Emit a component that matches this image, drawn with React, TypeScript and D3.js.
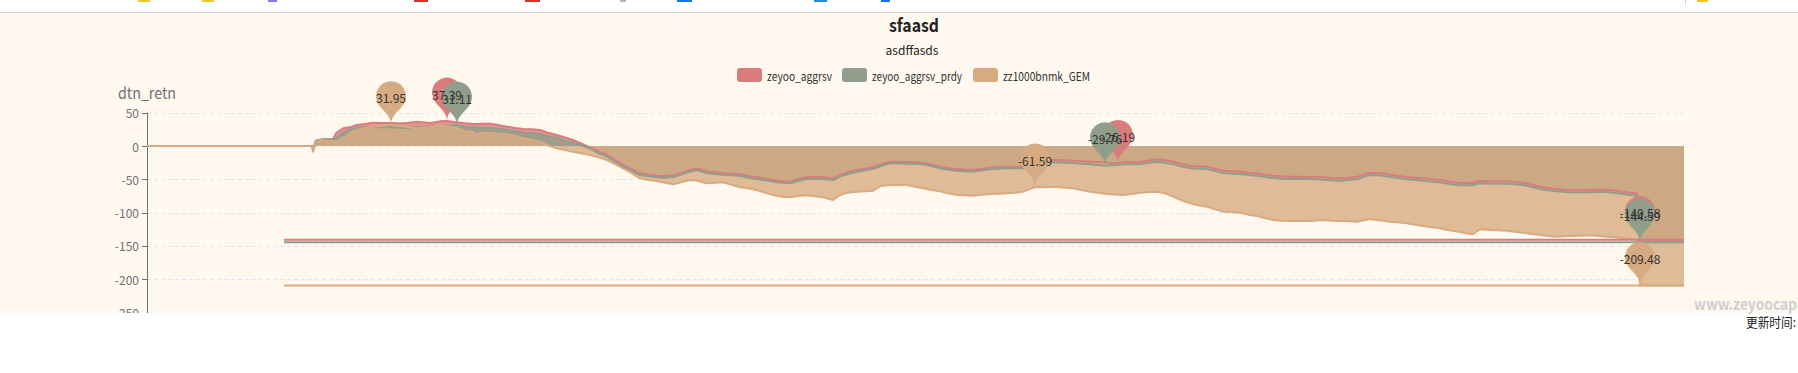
import React from 'react';
import * as d3 from 'd3';

// ---------- data ----------
const title = 'sfaasd';
const subtitle = 'asdffasds';
const yAxisName = 'dtn_retn';
const seriesNames = ['zeyoo_aggrsv', 'zeyoo_aggrsv_prdy', 'zz1000bnmk_GEM'];
const seriesColors = ['#d87c7c', '#919e8b', '#d7ab82'];
const yTicks = [50, 0, -50, -100, -150, -200, -250];

const days = [0, 165, 166, 169, 175, 186, 189, 196, 203, 210, 218, 226, 235, 244, 252, 260, 270, 283, 293, 300, 310, 318, 326, 330, 334, 343, 350, 360, 368, 376, 385, 393, 401, 410, 418, 426, 434, 443, 451, 460, 468, 476, 485, 493, 501, 510, 518, 526, 535, 543, 550, 560, 568, 576, 584, 593, 601, 610, 618, 626, 635, 643, 651, 660, 668, 676, 686, 693, 701, 710, 718, 726, 734, 743, 751, 760, 768, 776, 785, 793, 801, 810, 818, 826, 835, 843, 851, 860, 868, 876, 888, 893, 901, 910, 918, 926, 934, 943, 951, 958, 965, 971, 976, 985, 993, 1001, 1010, 1018, 1026, 1034, 1043, 1051, 1060, 1068, 1076, 1085, 1093, 1101, 1110, 1118, 1126, 1135, 1143, 1151, 1160, 1168, 1176, 1185, 1193, 1201, 1210, 1218, 1223, 1230, 1236, 1243, 1250, 1260, 1268, 1276, 1285, 1293, 1301, 1310, 1318, 1326, 1333, 1343, 1351, 1360, 1368, 1376, 1385, 1393, 1401, 1410, 1418, 1426, 1435, 1443, 1451, 1460, 1468, 1476, 1483, 1490, 1493, 1537];

const aggrsv = [0, 0, -4, 8, 10, 10, 19, 26.5, 28, 31.5, 33, 35, 34.5, 34.5, 34, 34.5, 36.5, 34.5, 37, 37.39, 35.5, 34, 33, 33, 33.5, 33.5, 32, 29, 27, 25.5, 25, 24, 20, 16.5, 13, 9, 4, -2, -8, -13.5, -21, -28.5, -35, -41, -43, -44.5, -45, -44, -40, -36, -33.5, -38.5, -39.5, -41, -41.5, -42.5, -45, -47, -49, -51, -52.5, -53.5, -50, -47, -47, -47, -48.5, -43.5, -39.5, -36, -34, -32, -27.5, -23.5, -23.5, -24, -24.5, -25, -28, -31, -33, -34.5, -35.5, -36, -34, -32.5, -31.5, -31, -31, -31, -26, -23.5, -22, -21, -21.5, -22, -23, -23.5, -24, -24.5, -25.5, -26.19, -24, -24, -24, -22, -20, -21.5, -23.5, -27, -30, -30.5, -31, -34, -37, -38, -38.5, -40, -41, -43, -44.5, -45.5, -46, -46, -46, -46.5, -47, -48, -48.5, -47.5, -46.5, -42, -40, -40.5, -41, -43, -44.5, -46.5, -47.5, -48.5, -50, -51, -53, -55, -55.5, -55.5, -52.5, -53, -53, -53, -54, -55, -58, -61, -63, -64.5, -65.5, -66, -66, -66, -65.5, -65.5, -67, -68.5, -70, -71, -140.58, -140.58];

const aggrsvPrdy = [0, 0, -6, 8, 10, 10, 11.5, 20, 24, 27, 28, 28.5, 28, 28.5, 27.5, 27, 28.5, 29, 30, 30.5, 31.11, 29, 28, 27.5, 27.5, 27, 26, 24, 22, 20, 19, 18, 15, 12, 8.5, 5, 1, -4, -10.5, -16, -23.5, -31, -37.5, -43.5, -45.5, -47, -47.5, -46.5, -42.5, -38.5, -36, -41, -42, -43.5, -44, -45, -47.5, -49.5, -51.5, -53.5, -55, -56, -52.5, -49.5, -49.5, -49.5, -51, -46, -42, -38.5, -36.5, -34.5, -30, -26, -26, -26.5, -27, -27.5, -30.5, -33.5, -35.5, -37, -38, -38.5, -36.5, -35, -34, -33.5, -33.5, -33.5, -28.5, -26.5, -25, -24.5, -25, -25.5, -26.5, -27.5, -28.5, -29.76, -29, -28.5, -27.5, -27.5, -27.5, -25.5, -23.5, -25, -27, -30.5, -33.5, -34, -34.5, -37.5, -40.5, -41.5, -42, -43.5, -44.5, -46.5, -48, -49, -49.5, -49.5, -49.5, -50, -50.5, -51.5, -52, -51, -50, -45.5, -43.5, -44, -44.5, -46.5, -48, -50, -51, -52, -53.5, -54.5, -56.5, -58.5, -59, -59, -56, -56.5, -56.5, -56.5, -57.5, -58.5, -61.5, -64.5, -66.5, -68, -69, -69.5, -69.5, -69.5, -69, -69, -70.5, -72, -73.5, -74.5, -144.59, -144.59];

const gemBench = [0, 0, -8.5, 6, 9, 7, 6.5, 12, 20, 24, 27, 29, 30.5, 31.95, 30, 29, 26.5, 28, 30.5, 29.5, 27, 22, 21.5, 16.5, 20, 19.5, 18.5, 18, 15, 11.5, 9, 6.5, 1, -3.5, -6, -8.5, -11, -13.5, -17, -21, -27, -33.5, -41, -48.5, -51, -52.5, -55, -57.5, -54, -51, -52, -56, -55, -54.5, -58, -62, -63.5, -66, -70, -73.5, -76, -77, -75, -74, -75.5, -77, -81, -73.5, -70, -68.5, -68, -67, -60, -58.5, -58.5, -58.5, -61, -63.5, -66, -68, -71, -73.5, -74, -74.5, -73, -72, -71.5, -71, -70, -68.5, -61.59, -62, -61.5, -61.5, -62.5, -63.5, -66, -68.5, -70, -71.5, -72.5, -73, -73.5, -72, -70, -69, -68.5, -71, -76, -81, -86, -89, -91, -95, -98.5, -99, -100, -103, -105, -108, -111, -112, -112.5, -112.5, -112.5, -112, -111, -112, -112.5, -113, -113.5, -111, -109.5, -111, -112, -113.5, -114.5, -116, -118, -120, -122, -123.5, -126, -128.5, -130.5, -132.5, -125, -126, -126.5, -127, -128.5, -130, -132, -133.5, -135, -136, -135.5, -135, -134.5, -134, -135, -136, -137, -138.5, -139.5, -141, -209.48, -209.48];

// mark points (days at which each series shows a pin)
const aggrsvMarks = [300, 971, 1493];
const aggrsvPrdyMarks = [310, 958, 1493];
const gemBenchMarks = [244, 888, 1493];
// day where the trailing flat line of each series begins
const flatStartDay = 137;

const watermark = 'www.zeyoocap';
const updateLabel = '更新时间:';

// ---------- layout ----------
const W = 1798;
const H = 373;
const FONT = "'Noto Sans CJK SC', 'Noto Sans', sans-serif";
const GRID_L = 147;
const GRID_R = 1684;
const CREAM_TOP = 13;
const CREAM_BOTTOM = 313;

function pinPath(x: number, y: number, size = 50) {
  const w = (size / 5) * 3;
  const h = Math.max(w, size);
  const r = w / 2;
  const dy = (r * r) / (h - r);
  const cy = y - h + r + dy;
  const angle = Math.asin(dy / r);
  const dx = Math.cos(angle) * r;
  const tanX = Math.sin(angle);
  const tanY = Math.cos(angle);
  const cpLen = r * 0.6;
  const cpLen2 = r * 0.7;
  const p = d3.path();
  p.moveTo(x - dx, cy + dy);
  p.arc(x, cy, r, Math.PI - angle, Math.PI * 2 + angle);
  p.bezierCurveTo(x + dx - tanX * cpLen, cy + dy + tanY * cpLen, x, y - cpLen2, x, y);
  p.bezierCurveTo(x, y - cpLen2, x - dx + tanX * cpLen, cy + dy + tanY * cpLen, x - dx, cy + dy);
  p.closePath();
  return p.toString();
}

const bookmarkBits = [
  { x: 138, w: 12, c: '#f2c12e' },
  { x: 202, w: 12, c: '#f2c12e' },
  { x: 268, w: 9, c: '#7c7cf2' },
  { x: 414, w: 14, c: '#d9302a' },
  { x: 525, w: 15, c: '#d9302a' },
  { x: 620, w: 6, c: '#b0b8c8' },
  { x: 677, w: 15, c: '#1a73e8' },
  { x: 814, w: 13, c: '#2a8ad8' },
  { x: 881, w: 9, c: '#1a73e8' },
  { x: 1697, w: 11, c: '#f2c12e' },
];

export default function App() {
  const x = d3.scaleLinear().domain([0, 1537]).range([GRID_L, GRID_R]);
  const y = d3.scaleLinear().domain([-250, 50]).range([312.6, 112.7]);

  const allSeries = [aggrsv, aggrsvPrdy, gemBench];
  const allMarks = [aggrsvMarks, aggrsvPrdyMarks, gemBenchMarks];

  const area = d3
    .area<number>()
    .x((_, i) => x(days[i]))
    .y0(y(0))
    .y1((d) => y(d));
  const line = d3
    .line<number>()
    .x((_, i) => x(days[i]))
    .y((d) => y(d));

  const pins: { sx: number; sy: number; v: number; color: string }[] = [];
  allSeries.forEach((s, si) => {
    allMarks[si].forEach((day) => {
      const idx = days.indexOf(day);
      const v = s[idx];
      pins.push({ sx: x(day), sy: y(v), v, color: seriesColors[si] });
    });
  });

  const legendX = [737, 842, 973];
  const legendTextW = [65, 90, 87];

  return (
    <svg
      width={W}
      height={H}
      style={{ position: 'absolute', left: 0, top: 0, background: '#ffffff' }}
      fontFamily={FONT}
    >
      <defs>
        <clipPath id="creamClip">
          <rect x={0} y={CREAM_TOP} width={W} height={CREAM_BOTTOM - CREAM_TOP} />
        </clipPath>
      </defs>
      {/* browser bar remnants */}
      <rect x={0} y={0} width={W} height={12} fill="#ffffff" />
      {bookmarkBits.map((b, i) => (
        <rect key={i} x={b.x} y={0} width={b.w} height={2} fill={b.c} />
      ))}
      <line x1={1685.5} x2={1685.5} y1={0} y2={4} stroke="#cfcfcf" />
      <rect x={0} y={12} width={W} height={1} fill="#d6d6d6" />

      {/* chart background */}
      <rect x={0} y={CREAM_TOP} width={W} height={CREAM_BOTTOM - CREAM_TOP} fill="#fef8ef" />

      <g clipPath="url(#creamClip)">
        {/* split lines */}
        {yTicks.map((t) => (
          <line
            key={'g' + t}
            x1={GRID_L}
            x2={GRID_R}
            y1={Math.round(y(t)) + 0.5}
            y2={Math.round(y(t)) + 0.5}
            stroke="#e0e6f1"
            strokeDasharray="4,3"
          />
        ))}
        {/* y axis */}
        <line x1={GRID_L + 0.5} x2={GRID_L + 0.5} y1={y(50)} y2={340} stroke="#6e7079" />
        {yTicks.map((t) => (
          <g key={'t' + t}>
            <line
              x1={GRID_L - 5}
              x2={GRID_L}
              y1={Math.round(y(t)) + 0.5}
              y2={Math.round(y(t)) + 0.5}
              stroke="#6e7079"
            />
            <text
              x={GRID_L - 8}
              y={y(t)}
              textAnchor="end"
              dominantBaseline="central"
              fontSize={12}
              fill="#6e7079"
            >
              {t}
            </text>
          </g>
        ))}
        <text
          x={GRID_L}
          y={92}
          textAnchor="middle"
          dominantBaseline="central"
          fontSize={16}
          fill="#6e7079"
          textLength={58}
          lengthAdjust="spacingAndGlyphs"
        >
          {yAxisName}
        </text>

        {/* areas */}
        {allSeries.map((s, si) => (
          <path key={'a' + si} d={area(s) || ''} fill={seriesColors[si]} fillOpacity={0.8} />
        ))}
        {/* lines */}
        {allSeries.map((s, si) => (
          <path
            key={'l' + si}
            d={line(s) || ''}
            fill="none"
            stroke={seriesColors[si]}
            strokeWidth={2}
            strokeLinejoin="round"
          />
        ))}
        {/* trailing flat lines */}
        {allSeries.map((s, si) => {
          const v = s[s.length - 1];
          return (
            <line
              key={'f' + si}
              x1={x(flatStartDay)}
              x2={x(days[days.length - 1])}
              y1={y(v)}
              y2={y(v)}
              stroke={seriesColors[si]}
              strokeWidth={2}
            />
          );
        })}
        {/* pins */}
        {pins.map((p, i) => (
          <path key={'p' + i} d={pinPath(p.sx, p.sy)} fill={p.color} />
        ))}
        {pins.map((p, i) => (
          <text
            key={'pl' + i}
            x={p.sx}
            y={p.sy - 27}
            textAnchor="middle"
            dominantBaseline="central"
            fontSize={12}
            fill="#333"
          >
            {p.v.toFixed(2)}
          </text>
        ))}
      </g>

      {/* title */}
      <text
        x={914}
        y={24}
        textAnchor="middle"
        dominantBaseline="central"
        fontSize={18}
        fontWeight="bold"
        fill="#222"
        textLength={50}
        lengthAdjust="spacingAndGlyphs"
      >
        {title}
      </text>
      <text
        x={912}
        y={49}
        textAnchor="middle"
        dominantBaseline="central"
        fontSize={12}
        fill="#222"
        textLength={53}
        lengthAdjust="spacingAndGlyphs"
      >
        {subtitle}
      </text>

      {/* legend */}
      {seriesNames.map((n, i) => (
        <g key={'lg' + i}>
          <rect x={legendX[i]} y={68} width={25} height={14} rx={3} fill={seriesColors[i]} />
          <text
            x={legendX[i] + 30}
            y={75}
            dominantBaseline="central"
            fontSize={12}
            fill="#333"
            textLength={legendTextW[i]}
            lengthAdjust="spacingAndGlyphs"
          >
            {n}
          </text>
        </g>
      ))}

      {/* watermark & update time */}
      <text
        x={1694}
        y={303}
        dominantBaseline="central"
        fontSize={16}
        fontWeight="bold"
        fill="#cfcfcf"
        textLength={103}
        lengthAdjust="spacingAndGlyphs"
      >
        {watermark}
      </text>
      <text
        x={1746}
        y={321}
        dominantBaseline="central"
        fontSize={13}
        fill="#222"
        textLength={50}
        lengthAdjust="spacingAndGlyphs"
      >
        {updateLabel}
      </text>
    </svg>
  );
}
